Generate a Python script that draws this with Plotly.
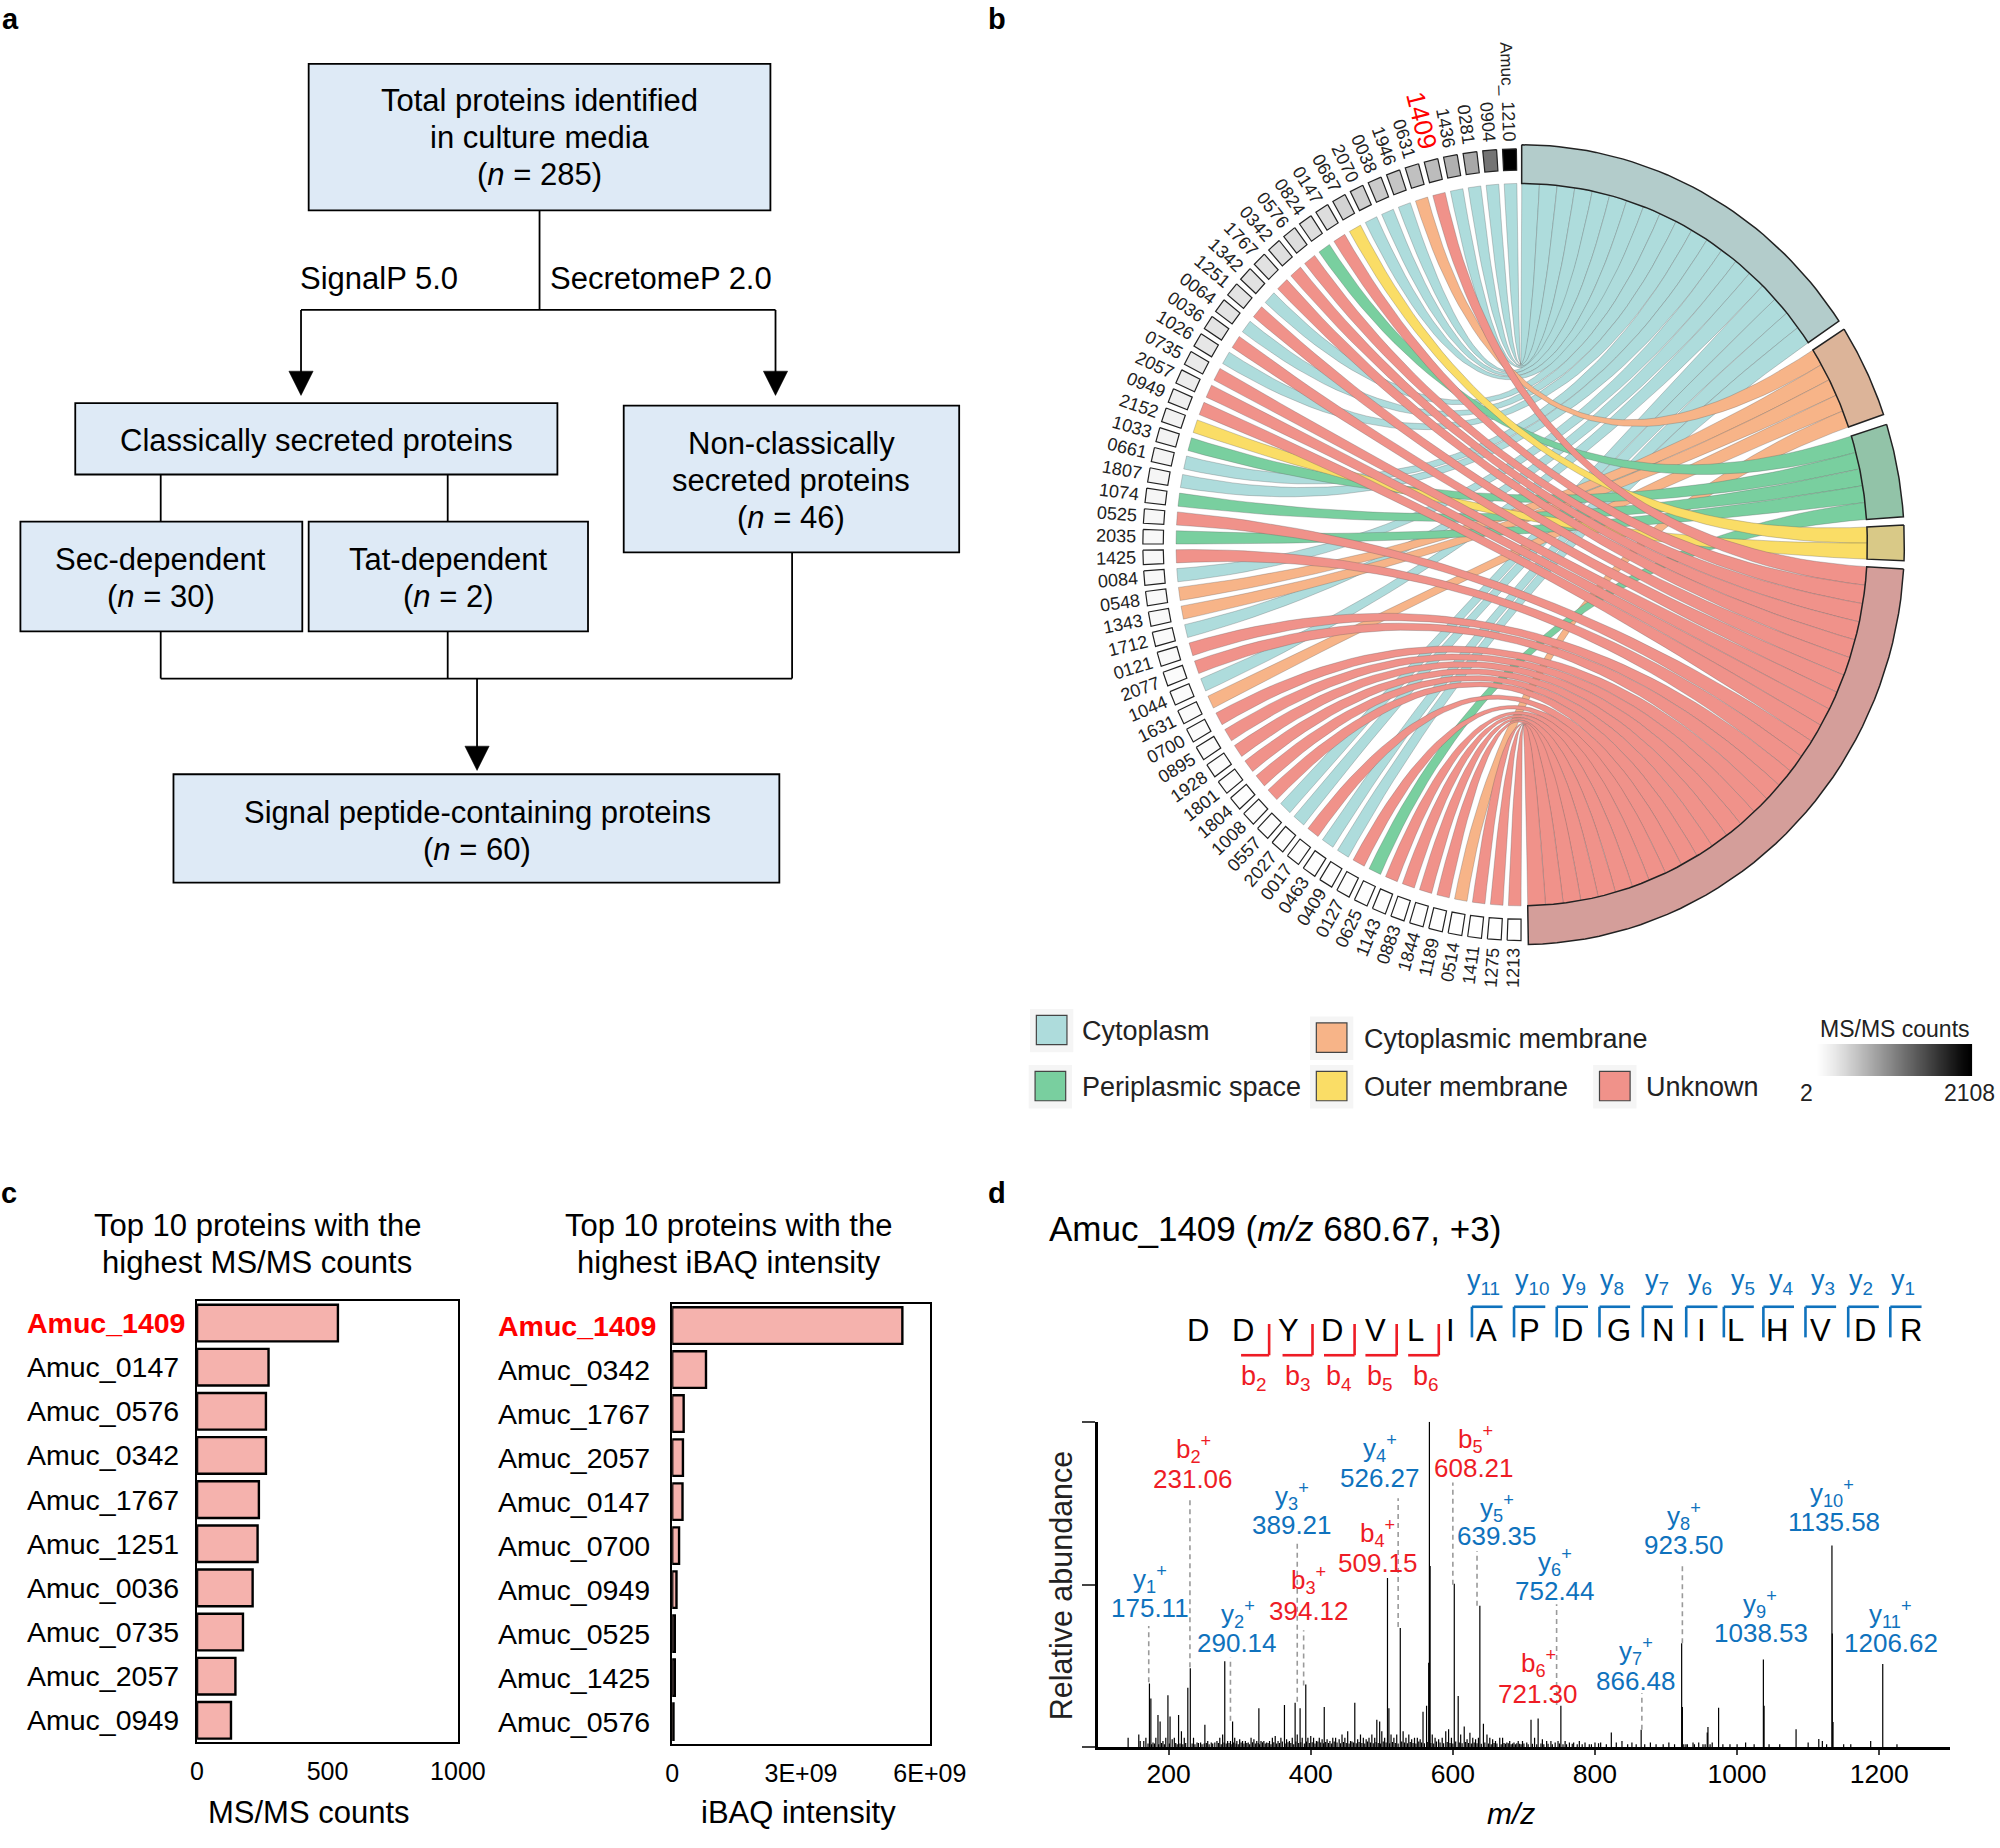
import math
import plotly.graph_objects as go

W, H = 2000, 1848
S = W / 1568
DW, DH = W / S, H / S
FONT = "Liberation Sans"

# ---------- panel c ----------
ms_names = ["Amuc_1409","Amuc_0147","Amuc_0576","Amuc_0342","Amuc_1767","Amuc_1251","Amuc_0036","Amuc_0735","Amuc_2057","Amuc_0949"]
ms_values = [540,274,264,264,237,232,213,176,147,130]
ibaq_names = ["Amuc_1409","Amuc_0342","Amuc_1767","Amuc_2057","Amuc_0147","Amuc_0700","Amuc_0949","Amuc_0525","Amuc_1425","Amuc_0576"]
ibaq_values = [5.36e9,0.787e9,0.267e9,0.25e9,0.24e9,0.16e9,0.1e9,0.06e9,0.06e9,0.03e9]

# ---------- panel b ----------
chord_ids = ["1210","0904","0281","1436","1409","0631","1946","0038","2070","0687",
             "0147","0824","0576","0342","1767","1342","1251","0064","0036","1026",
             "0735","2057","0949","2152","1033","0661","1807","1074","0525","2035",
             "1425","0084","0548","1343","1712","0121","2077","1044","1631","0700",
             "0895","1928","1801","1804","1008","0557","2027","0017","0463","0409",
             "0127","0625","1143","0883","1844","1189","0514","1411","1275","1213"]
chord_loc = list("CCCCUMCCCY"
                 "UPUUUCUCUC"
                 "UUUYPCCPUP"
                 "UCMMCUUCMU"
                 "UUUUUCCUCC"
                 "UPUUUUMUUU")
chord_counts = [2108,1150,720,650,550,520,480,430,400,360,
                280,275,270,265,240,238,235,225,215,195,
                176,147,130,110,100,92,85,78,70,62,
                58,54,50,46,42,38,35,32,29,26,
                24,22,20,18,16,14,12,11,10,9,
                8,7,6,5,5,4,4,3,3,2]
loc_order = ["C","M","P","Y","U"]
loc_names = {"C":"Cytoplasm","M":"Cytoplasmic membrane","P":"Periplasmic space","Y":"Outer membrane","U":"Unknown"}
ribbon_color = {"C":"#aedcdc","M":"#f7b488","P":"#79cf9f","Y":"#fadd66","U":"#f0928a"}
ring_color = {"C":"#b3cccb","M":"#dcb499","P":"#92c3a8","Y":"#d9c987","U":"#d49e9a"}
sector_span = {"C":(0.0,56.0),"M":(57.4,71.0),"P":(72.5,86.0),"Y":(87.2,92.3),"U":(93.5,179.0)}

# ---------- panel d ----------
main_mz = [567,508,526,602,638,922,1037,1133.5,1205,173,175,199,202,185,214,227,230.5,279,290,251,327,363,378,385,393,419,462,493,497,510,558,563,566,568,594,607.5,616,643,710,720,752,823,865,923,958,959,974,1038,1083,1115,1135,1134,1188]
main_int = [100,52,36.7,50.3,43.5,32,27,62,25.6,19.6,15,16,9.5,10,10,18.3,24.3,26.5,8,7,12,13,13.7,12,19.3,12.4,13.7,8.5,8,12,11,12.8,26,55.7,5.6,15.8,6.4,7.3,8.5,8.9,12.8,4.6,5.4,12.4,4.6,6.3,12.2,12.8,5.6,2.6,7.8,35,2]
small_mz = [143,158,160,165,168,178,182,188,192,196,205,208,218,222,235,240,245,255,260,265,268,272,276,283,287,293,296,300,304,308,312,316,320,324,330,334,338,342,346,350,354,358,366,370,374,381,388,396,400,404,408,412,416,423,427,431,435,440,444,448,452,456,466,470,474,478,482,486,490,500,504,513,517,521,530,534,538,542,546,550,554,571,575,580,585,590,598,611,620,624,628,632,636,648,652,656,660,666,670,676,680,686,692,698,704,715,726,732,738,744,748,758,764,770,778,786,792,800,808,816,830,838,846,852,858,870,878,886,896,904,912,930,938,946,952,965,980,990,1000,1012,1024,1045,1060,1100,1120,1126,1150,1160,1225]
small_int = [3,4,2,2,3,1.5,3,8,2,3,2.5,3,5,3,3,1.5,1.5,2,1.5,1.5,2,3,4,2,2,3,2,2.5,2,2,1.5,3,2.5,2,2,2,1.5,2,3,3.5,2,3,2.5,2,3,4,3,3,3.5,3,2,3,2.5,2.5,2,3,3,2.5,4,3,5,2,2.5,4,3,2.5,3,4,3,5,3,4,3,4,5,3,4,2.5,3,3,2.5,4,3,2.5,3,5,3,4,2.5,4.5,3,2.5,3,4,3,2.5,2,3,3,1.5,2,1.5,2,2,1.5,3,2.5,2,2,1.5,2,2,1.5,1.5,2,1.5,1,1.5,1.5,1,1.5,2,1,1.5,1,1,1.5,1,1,1.5,1,1,1.5,1.5,1,1.5,1,1,1,1.5,1,1,1,1.5,2,1,1,1,1]
tiny_mz = [171,176,180,186,190,194,201,210,212,216,220,224,233,237,242,247,250,253,257,262,270,274,278,281,285,289,291,295,298,302,306,310,314,318,322,326,328,332,336,340,344,348,352,356,360,364,368,372,376,379,383,386,391,394,398,402,406,410,414,418,421,425,429,433,437,442,446,450,454,458,460,464,468,472,476,480,484,488,492,495,498,502,506,511,515,519,523,528,532,536,540,544,548,552,556,560,564,569,573,577,582,587,592,596,600,604,609,613,618,622,626,630,634,640,645,650,654,658,662,668,672,674,678,682,684,688,690,694,696,700,706,712,718,724,728,734,740,750,755,760,768,775,782,795,805,925,928,940,955,962,976,1040]
tiny_int = [1.2,1,1.2,1,1.4,1,1.2,1.4,1,1.2,1,1.4,1.2,1,1.4,1,1.2,1.4,1,1.2,1.4,1,1.5,1.2,1.4,1,1.5,1.2,1,1.5,1.2,1.4,1,1.6,1.2,1.4,1,1.6,1.2,1.4,1,1.6,1.2,1.4,1.8,1.2,1.6,1.4,1,1.8,1.4,1.6,1.2,1.8,1.4,1.6,1.2,1.8,1.5,1.3,1.7,1.4,1.2,1.8,1.5,1.3,1.7,1.4,1.2,1.8,1.5,1.3,1.7,1.4,1.2,1.8,1.5,1.3,1.7,1.4,1.2,1.8,1.5,1.3,1.7,1.4,1.2,1.8,1.5,1.3,1.7,1.4,1.2,1.8,1.5,1.3,1.7,1.4,1.2,1.8,1.5,1.3,1.7,1.4,1.2,1.8,1.5,1.3,1.7,1.4,1.2,1.5,1.3,1.1,1.5,1.2,1,1.4,1.2,1,1.4,1.1,1.3,1,1.2,1,1.3,1.1,1,1.2,1,1.1,1,1.2,1,1.1,1,1.2,1,1,1.1,1,1,1,1.3,1,1,1,1,1]
dash_mz = [172,230,287,381,390,523,600,634,746,866,923]
dash_top = [37.3,76.9,27.6,63.4,36,76.5,81.4,60.3,44,16.7,56.6]
dash_low = [20,24.6,8.2,14,19,37,50,43.5,13,5.4,32]
seq_letters = list("DDYDVLIAPDGNILHVDR")
b_labels = ["b2","b3","b4","b5","b6"]
y_labels = ["y11","y10","y9","y8","y7","y6","y5","y4","y3","y2","y1"]

RED, BLUE = "#ee1c25", "#0f72bd"
BOXF = "#deeaf6"

def dom_x(a, b): return [a / DW, b / DW]
def dom_y(top, bottom): return [1 - bottom / DH, 1 - top / DH]

fig = go.Figure()
shapes, annots = [], []

def text(x, y, s, size=31, color="black", angle=0, anchor="center", **kw):
    annots.append(dict(x=x, y=y, xref="x4", yref="y4", text=s, showarrow=False, xanchor=anchor, yanchor="middle",
                       textangle=angle, font=dict(size=size, color=color, family=kw.get("family", FONT))))

def lines(x, y_first, rows, gap=29, **kw):
    for i, r in enumerate(rows):
        text(x, y_first + i * gap, r, **kw)

def rect(x0, y0, x1, y1, fill=BOXF, line="black", lw=1.8):
    shapes.append(dict(type="rect", xref="x4", yref="y4", x0=x0, y0=y0, x1=x1, y1=y1, fillcolor=fill,
                       line=dict(color=line, width=lw), layer="above"))

def seg(x0, y0, x1, y1, color="black", lw=1.8):
    shapes.append(dict(type="line", xref="x4", yref="y4", x0=x0, y0=y0, x1=x1, y1=y1, line=dict(color=color, width=lw), layer="above"))

def arrow(x, y0, y1):
    seg(x, y0, x, y1 - 16)
    shapes.append(dict(type="path", xref="x4", yref="y4", path=f"M {x-9.5},{y1-19} L {x+9.5},{y1-19} L {x},{y1} Z",
                       fillcolor="black", line=dict(color="black", width=0.5), layer="above"))

# ---------- panel letters ----------
for s, x, y in [("a",8,15),("b",782,15),("c",7,935),("d",782,935)]:
    text(x, y, f"<b>{s}</b>", size=29)

# ---------- panel a ----------
rect(242,50,604,165); rect(59,316,437,372); rect(489,318,752,433)
rect(16,409,237,495); rect(242,409,461,495); rect(136,607,611,692)
lines(423,79,["Total proteins identified","in culture media","(<i>n</i> = 285)"])
text(248,345,"Classically secreted proteins")
lines(620.5,348,["Non-classically","secreted proteins","(<i>n</i> = 46)"])
lines(126,439,["Sec-dependent","(<i>n</i> = 30)"])
lines(351.5,439,["Tat-dependent","(<i>n</i> = 2)"])
lines(374,637,["Signal peptide-containing proteins","(<i>n</i> = 60)"])
text(297,218,"SignalP 5.0"); text(518,218,"SecretomeP 2.0")
seg(423,165,423,243); seg(236,243,608,243)
arrow(236,243,310); arrow(608,243,310)
seg(126,372,126,409); seg(351,372,351,409)
seg(126,495,126,532); seg(351,495,351,532); seg(621,433,621,532); seg(126,532,621,532)
arrow(374,532,604)

# ---------- panel b: chord diagram ----------
CX, CY, EY = 1193, 427, 1.045
def pt(theta, r):
    t = math.radians(theta)
    return CX + r * math.sin(t), CY - r * EY * math.cos(t)
def arc(t0, t1, r, n=6):
    return [pt(t0 + (t1 - t0) * i / n, r) for i in range(n + 1)]
def bez(p0, p2, n=40):
    out = []
    for i in range(n + 1):
        u = i / n
        out.append(((1-u)**2*p0[0] + 2*u*(1-u)*CX + u*u*p2[0], (1-u)**2*p0[1] + 2*u*(1-u)*CY + u*u*p2[1]))
    return out
def poly(pts, fill, line, lw):
    fig.add_trace(go.Scatter(x=[p[0] for p in pts]+[pts[0][0]], y=[p[1] for p in pts]+[pts[0][1]], mode="lines", fill="toself",
                             fillcolor=fill, line=dict(color=line, width=lw), xaxis="x4", yaxis="y4", hoverinfo="skip", showlegend=False))

R_IN, R_RING, SQ0, SQ1 = 271, 300, 281, 297
PITCH, START, WID = 3.0, 0.8, 2.1
slot_used = {k: 0 for k in loc_order}
slot_n = {k: chord_loc.count(k) for k in loc_order}
ribbons = []
for i, c in enumerate(chord_loc):
    a0 = -(START + PITCH * i); a1 = a0 - WID
    s0, s1 = sector_span[c]
    w = (s1 - s0) / slot_n[c]
    b0 = s0 + w * slot_used[c]; b1 = b0 + w
    slot_used[c] += 1
    ribbons.append((c, a0, a1, b0, b1))
for c in loc_order:
    for (cc, a0, a1, b0, b1) in ribbons:
        if cc != c: continue
        pts = arc(a0, a1, R_IN, 3) + bez(pt(a1, R_IN), pt(b1, R_IN)) + arc(b1, b0, R_IN, 3) + bez(pt(b0, R_IN), pt(a0, R_IN))
        poly(pts, ribbon_color[c], "rgba(90,90,90,0.5)", 0.6)
for c in loc_order:
    s0, s1 = sector_span[c]
    poly(arc(s0, s1, R_RING, 40) + arc(s1, s0, R_IN, 40), ring_color[c], "#222222", 1.5)
for i, v in enumerate(chord_counts):
    a0 = -(START + PITCH * i); a1 = a0 - WID
    g = round(255 * (1 - v / 2108))
    poly(arc(a0, a1, SQ1, 2) + arc(a1, a0, SQ0, 2), f"rgb({g},{g},{g})", "#222222", 1.2)
    th = (a0 + a1) / 2
    ta = 90 + th
    if chord_ids[i] == "1409":
        x, y = pt(th, SQ1 + 31); text(x, y, chord_ids[i], size=26, color="#ff0000", angle=ta)
    else:
        x, y = pt(th, SQ1 + 21); text(x, y, chord_ids[i], size=18, color="#222222", angle=ta)
    if i == 0:
        x, y = pt(th, SQ1 + 60); text(x, y, "Amuc_", size=17, color="#222222", angle=ta)

# legend of panel b
legend_pos = {"C":(812.5,796,847,808),"M":(1032,802,1067.5,814.5),"P":(811.5,840,846.5,852),"Y":(1032,840,1068,852),"U":(1254,840,1289,852)}
for c in loc_order:
    x, y, tx, ty = legend_pos[c]
    rect(x-5, y-5, x+29, y+29, fill="#f5f5f5", line="rgba(0,0,0,0)", lw=0)
    rect(x, y, x+24, y+23, fill=ribbon_color[c], line="#444444", lw=1.2)
    text(tx, ty, loc_names[c], size=27, color="#222222", anchor="left")
text(1486,807,"MS/MS counts",size=23,color="#222222")
text(1416,857,"2",size=23,color="#222222"); text(1544,857,"2108",size=23,color="#222222")
grad_vals = [2,50,100,160,230,300,380,460,540,620,700,780,860,940,1020,1100,1180,1260,1340,1420,1500,1580,1660,1740,1820,1900,1980,2050,2108]
fig.add_trace(go.Heatmap(z=[grad_vals], colorscale=[[0,"#ffffff"],[1,"#000000"]], showscale=False, xaxis="x5", yaxis="y5", zsmooth="best", hoverinfo="skip"))

# ---------- panel c ----------
BAR = "#f5b2ad"
fig.add_trace(go.Bar(y=list(range(10)), x=ms_values, orientation="h", width=0.83, marker=dict(color=BAR, line=dict(color="black", width=2.4)), xaxis="x", yaxis="y", showlegend=False, hoverinfo="skip"))
fig.add_trace(go.Bar(y=list(range(10)), x=ibaq_values, orientation="h", width=0.83, marker=dict(color=BAR, line=dict(color="black", width=2.4)), xaxis="x2", yaxis="y2", showlegend=False, hoverinfo="skip"))
for names, ya, left in [(ms_names, "y", 19.5), (ibaq_names, "y2", 388.5)]:
    for k, n in enumerate(names):
        hi = n == "Amuc_1409"
        annots.append(dict(x=left / DW, xref="paper", y=k, yref=ya, text=f"<b>{n}</b>" if hi else n, showarrow=False, xanchor="left", yanchor="middle",
                           font=dict(family=FONT, size=28.5, color="#ff0000" if hi else "black")))
lines(201.5,961,["Top 10 proteins with the","highest MS/MS counts"])
lines(571.5,961,["Top 10 proteins with the","highest iBAQ intensity"])
text(242,1421,"MS/MS counts"); text(626,1421,"iBAQ intensity")

# ---------- panel d ----------
def stems(pairs):
    X, Y = [], []
    for xs, ys in pairs:
        for a, b in zip(xs, ys):
            X += [a, a, None]; Y += [0, b, None]
    return X, Y
X, Y = stems([(tiny_mz, tiny_int), (small_mz, small_int), (main_mz, main_int)])
fig.add_trace(go.Scatter(x=X, y=Y, mode="lines", line=dict(color="black", width=1.2), xaxis="x3", yaxis="y3", hoverinfo="skip", showlegend=False))
DX, DY = [], []
for a, t, l in zip(dash_mz, dash_top, dash_low):
    DX += [a, a, None]; DY += [l, t, None]
fig.add_trace(go.Scatter(x=DX, y=DY, mode="lines", line=dict(color="#9a9a9a", width=1.6, dash="5px,4px"), xaxis="x3", yaxis="y3", hoverinfo="skip", showlegend=False))

text(821,963,"Amuc_1409 (<i>m/z</i> 680.67, +3)",size=35,anchor="left")
seq_zx = [311,381,452,520,588,652,707,763,830,897,970,1040,1100,1153,1218,1287,1356,1428]
for s, zx in zip(seq_letters, seq_zx):
    text(784+zx/2, 1043.5, s, size=31)
for lab, vx, hx, lx in zip(b_labels, [422,490,556,622,688], [378,443,508,573,640], [398,467,532,596,668]):
    seg(784+vx/2, 1038, 784+vx/2, 1062.5, RED, 2.6); seg(784+hx/2, 1062.5, 784+vx/2, 1062.5, RED, 2.6)
    text(784+lx/2, 1080, f"{lab[0]}<sub>{lab[1:]}</sub>", size=27, color=RED)
y_hx = [(740,788),(806,855),(873,922),(940,988),(1008,1055),(1076,1125),(1135,1182),(1197,1245),(1263,1311),(1330,1378),(1396,1445)]
y_lx = [758,835,900,960,1030,1098,1165,1224,1290,1350,1416]
for lab, (h0, h1), lx in zip(y_labels, y_hx, y_lx):
    seg(784+h0/2, 1024.5, 784+h0/2, 1048.5, BLUE, 2.6); seg(784+h0/2, 1024.5, 784+h1/2, 1024.5, BLUE, 2.6)
    text(784+lx/2, 1005, f"{lab[0]}<sub>{lab[1:]}</sub>", size=27, color=BLUE)
frag = [("y1","175.11",235,938,235,1005),("b2","231.06",303,632,303,702),("y2","290.14",373,1020,372,1087),
        ("y3","389.21",458,742,458,810),("b3","394.12",484,940,484,1013),("b4","509.15",592,828,592,900),
        ("y4","526.27",596,630,596,700),("b5","608.21",746,608,744,677),("y5","639.35",780,770,780,837),
        ("y6","752.44",871,898,871,965),("b6","721.30",844,1135,844,1207),("y7","866.48",998,1105,998,1177),
        ("y8","923.50",1072,790,1072,858),("y9","1038.53",1192,995,1193,1063),("y10","1135.58",1305,735,1307,802),
        ("y11","1206.62",1397,1018,1397,1088)]
for lab, val, x1, y1, x2, y2 in frag:
    col = RED if lab[0] == "b" else BLUE
    text(784+x1/2, 925+y1*0.334, f"{lab[0]}<sub>{lab[1:]}</sub><sup>+</sup>", size=26, color=col)
    text(784+x2/2, 925+y2*0.334, val, size=26, color=col)
text(832.5,1243,"Relative abundance",size=30.5,angle=-90,color="#222222")
text(1185,1422,"<i>m/z</i>",size=30)

# ---------- layout ----------
hidden = dict(visible=False, showgrid=False, zeroline=False)
tf = dict(family=FONT, size=25, color="black")
box = dict(showline=True, mirror=True, linecolor="black", linewidth=2, showgrid=False, zeroline=False)
fig.update_layout(
    width=W, height=H, margin=dict(l=0, r=0, t=0, b=0, autoexpand=False), paper_bgcolor="white", plot_bgcolor="rgba(0,0,0,0)",
    showlegend=False, font=dict(family=FONT), shapes=shapes, annotations=annots, bargap=0.17,
    xaxis=dict(domain=dom_x(154.5,359), range=[0,1000], tickvals=[0,500,1000], anchor="y", ticks="outside", ticklen=6, tickcolor="rgba(0,0,0,0)", tickfont=tf, **box),
    yaxis=dict(domain=dom_y(1020,1366), range=[9.5,-0.5], tickvals=list(range(10)), showticklabels=False, anchor="x", **box),
    xaxis2=dict(domain=dom_x(527,729), range=[0,6e9], tickvals=[0,3e9,6e9], ticktext=["0","3E+09","6E+09"], anchor="y2", ticks="outside", ticklen=6, tickcolor="rgba(0,0,0,0)", tickfont=tf, **box),
    yaxis2=dict(domain=dom_y(1022,1367), range=[9.5,-0.5], tickvals=list(range(10)), showticklabels=False, anchor="x2", **box),
    xaxis3=dict(domain=dom_x(860.5,1529), range=[100,1300], tickvals=[200,400,600,800,1000,1200], anchor="y3", ticks="outside", ticklen=5, tickwidth=2, ticklabelstandoff=-4, showline=True, linecolor="black", linewidth=2.6, showgrid=False, zeroline=False, tickfont=dict(family=FONT,size=26.5,color="black")),
    yaxis3=dict(domain=dom_y(1114.7,1370), range=[0,100], tickvals=[0,50,100], ticktext=["","",""], anchor="x3", ticks="outside", ticklen=13, tickwidth=2, showline=True, linecolor="black", linewidth=2.6, showgrid=False, zeroline=False),
    xaxis4=dict(domain=[0,1], range=[0,DW], anchor="y4", **hidden),
    yaxis4=dict(domain=[0,1], range=[DH,0], anchor="x4", **hidden),
    xaxis5=dict(domain=dom_x(1421.5,1546.5), anchor="y5", **hidden),
    yaxis5=dict(domain=dom_y(818.5,843.5), anchor="x5", **hidden),
)
fig.write_html("out.html", config={"displayModeBar": False},
               post_script="document.body.style.margin='0';document.documentElement.style.overflow='hidden';")
